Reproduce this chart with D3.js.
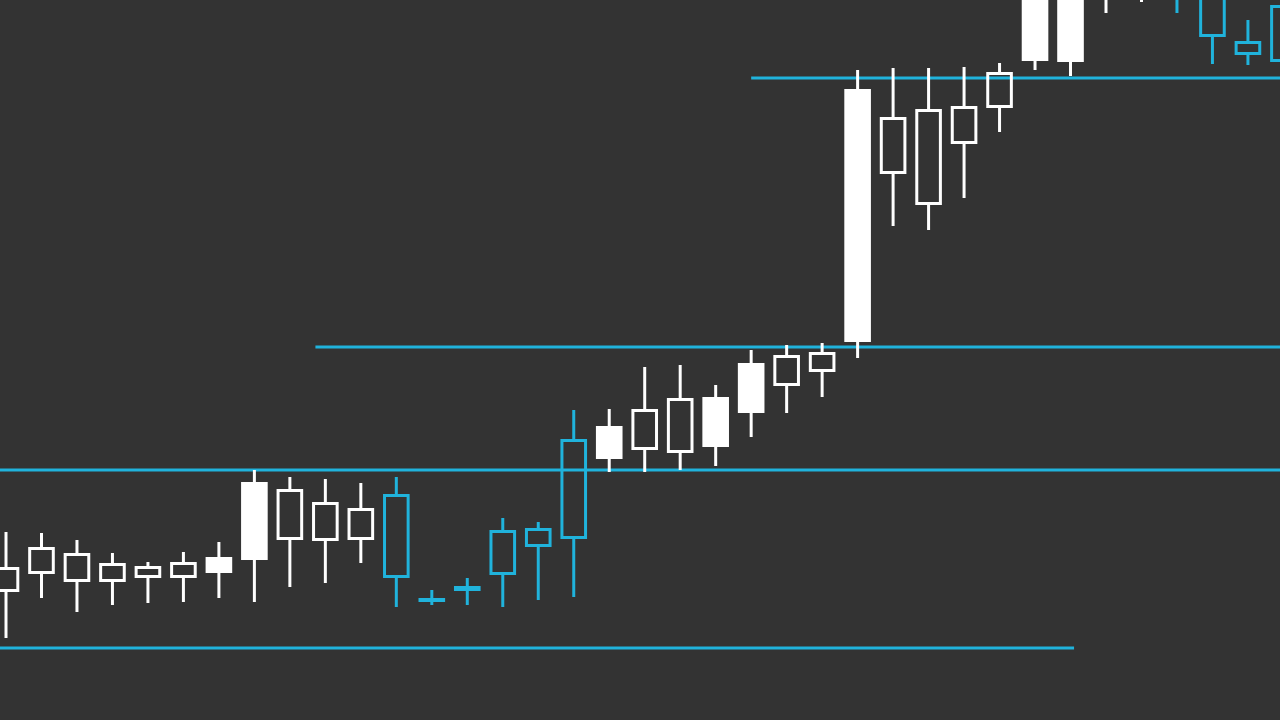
<!DOCTYPE html>
<html>
<head>
<meta charset="utf-8">
<script src="https://cdn.jsdelivr.net/npm/d3@7/dist/d3.min.js"></script>
<style>
  html, body { margin: 0; padding: 0; background: #333333; overflow: hidden; }
  svg { display: block; }
</style>
</head>
<body>
<svg id="chart" width="1280" height="720"></svg>
<script>
// ---- data ----
const sessions = d3.range(37);            // candle index (time order)
const opens  = [115.3,117.3,116.7,115.7,115.4,115.8,114.7,116.0,123.1,121.8,121.2,
                122.6,112.2,113.4,119.0,119.2,128.1,
                126.1,131.1,132.2,127.3,130.7,136.5,136.8,137.8,160.3,161.1,161.4,164.8,165.9,165.8,
                172.5,173.0,175.0,172.5,167.9,171.5];
const highs  = [118.8,118.7,118.0,116.7,115.8,116.8,117.8,125.0,124.3,124.1,123.7,
                124.3,113.0,114.2,120.2,119.8,131.0,
                131.1,135.3,135.5,133.5,137.0,137.5,137.7,165.0,165.2,165.2,165.3,165.7,174.0,174.0,
                175.5,176.0,176.0,174.0,170.0,172.2];
const lows   = [108.2,112.2,110.8,111.5,111.7,111.8,112.2,111.8,113.3,113.7,115.7,
                111.3,111.5,111.5,111.3,112.0,112.3,
                124.8,124.8,125.0,125.4,128.3,130.7,132.3,136.2,149.4,149.0,152.2,158.8,165.0,164.4,
                170.7,171.8,170.7,165.6,165.5,165.0];
const closes = [112.8,114.6,113.8,113.8,114.2,114.2,116.3,123.8,118.0,117.9,118.0,
                114.2,111.9,112.9,114.5,117.3,118.1,
                129.4,127.0,126.7,132.3,135.7,133.4,134.8,163.1,154.6,151.5,157.6,161.2,173.0,173.0,
                174.5,175.0,172.2,168.3,166.5,165.8];
// candles drawn in the highlight colour
const highlighted = [11,12,13,14,15,16,33,34,35,36];
// horizontal support / resistance levels
const levels     = [164.2, 137.3, 125.0, 107.2];
const levelStart = [21, 8.72, -2, -2];
const levelEnd   = [40, 40, 40, 30.1];

// ---- drawing ----
const W = 1280, H = 720;
const BG = "#333333", WHITE = "#ffffff", CYAN = "#20b3dc";

const svg = d3.select("#chart");
svg.append("rect").attr("width", W).attr("height", H).attr("fill", BG);

const x = d3.scaleLinear().domain([0, 31]).range([6, 1106]);
const y = d3.scaleLinear().domain([100, 172]).range([H, 0]);
const step = x(1) - x(0);
const bodyW = step * 0.75;
const sw = 3;

// levels
svg.append("g").selectAll("line")
  .data(levels)
  .join("line")
  .attr("x1", (d, i) => x(levelStart[i]))
  .attr("x2", (d, i) => x(levelEnd[i]))
  .attr("y1", d => y(d))
  .attr("y2", d => y(d))
  .attr("stroke", CYAN)
  .attr("stroke-width", 3);

const candles = sessions.map((s, i) => ({
  s, o: opens[i], h: highs[i], l: lows[i], c: closes[i],
  hl: highlighted.includes(i)
}));

const g = svg.append("g").selectAll("g.candle")
  .data(candles)
  .join("g")
  .attr("class", "candle");

const col = d => d.hl ? CYAN : WHITE;
const bodyTop = d => y(Math.max(d.o, d.c));
const bodyBot = d => y(Math.min(d.o, d.c));

// upper wick
g.append("line")
  .attr("x1", d => x(d.s)).attr("x2", d => x(d.s))
  .attr("y1", d => y(d.h)).attr("y2", d => bodyTop(d))
  .attr("stroke", col).attr("stroke-width", sw);
// lower wick
g.append("line")
  .attr("x1", d => x(d.s)).attr("x2", d => x(d.s))
  .attr("y1", d => bodyBot(d)).attr("y2", d => y(d.l))
  .attr("stroke", col).attr("stroke-width", sw);
// body: filled when rising, hollow when falling
g.append("rect")
  .attr("x", d => x(d.s) - bodyW / 2 + sw / 2)
  .attr("width", bodyW - sw)
  .attr("y", d => bodyTop(d) + sw / 2)
  .attr("height", d => Math.max(1, bodyBot(d) - bodyTop(d) - sw))
  .attr("fill", d => d.c > d.o ? col(d) : "none")
  .attr("stroke", col)
  .attr("stroke-width", sw);
</script>
</body>
</html>
